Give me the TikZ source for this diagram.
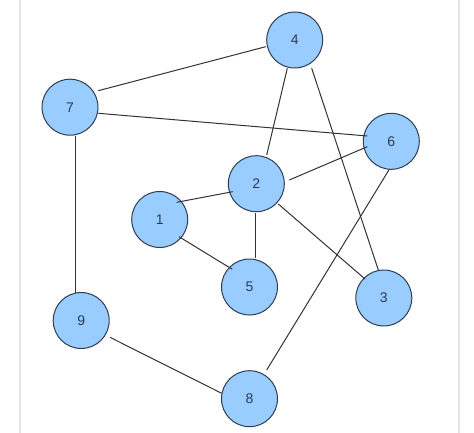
\documentclass[tikz,border=0pt]{standalone}
\usepackage{fontspec}
\setmainfont{Liberation Sans}
\begin{document}
\begin{tikzpicture}[x=1pt,y=-1pt,
  vert/.style={circle,draw=nodeedge,fill=nodefill,line width=1pt,minimum size=56pt,inner sep=0pt,text=nodetext,font=\fontsize{14pt}{16pt}\selectfont},
  edge/.style={draw=edgecol,line width=1pt}]
\definecolor{nodefill}{HTML}{99CCFF}
\definecolor{nodeedge}{HTML}{2E3E50}
\definecolor{nodetext}{HTML}{2A3B52}
\definecolor{edgecol}{HTML}{333333}
\definecolor{framecol}{HTML}{E3E3E3}
\useasboundingbox (0,0) rectangle (474,433);
\fill[white] (0,0) rectangle (474,433);
\coordinate (lt) at (20,0); \coordinate (lb) at (20,433);
\coordinate (rt) at (459,0); \coordinate (rb) at (459,433);
\draw[framecol,line width=2pt] (lt) -- (lb);
\draw[framecol,line width=2pt] (rt) -- (rb);
\node[vert] (n4) at (294.7,40) {4};
\node[vert] (n7) at (70,107.2) {7};
\node[vert] (n6) at (391.3,141.3) {6};
\node[vert] (n2) at (256.3,183.7) {2};
\node[vert] (n1) at (159.7,219.5) {1};
\node[vert] (n5) at (249.5,287) {5};
\node[vert] (n3) at (383.8,298) {3};
\node[vert] (n9) at (81.2,320.5) {9};
\node[vert] (n8) at (249.5,398.7) {8};
\path[edge] ([shift={(28.3,-16.5)}]n7.center) -- ([shift={(-29,6.7)}]n4.center);
\path[edge] ([shift={(28.3,6.1)}]n7.center) -- ([shift={(-24,-5.3)}]n6.center);
\path[edge] ([shift={(5,28.8)}]n7.center) -- ([shift={(-6.2,-27.8)}]n9.center);
\path[edge] ([shift={(-7.4,28.3)}]n4.center) -- ([shift={(10.4,-28.7)}]n2.center);
\path[edge] ([shift={(17,28.3)}]n4.center) -- ([shift={(-5.5,-28)}]n3.center);
\path[edge] ([shift={(33,-3.7)}]n2.center) -- ([shift={(-24,5.4)}]n6.center);
\path[edge] ([shift={(-23.6,8)}]n2.center) -- ([shift={(17,-17.2)}]n1.center);
\path[edge] ([shift={(-1.3,29.6)}]n2.center) -- ([shift={(5.5,-28.7)}]n5.center);
\path[edge] ([shift={(22,20.3)}]n2.center) -- ([shift={(-18.8,-19)}]n3.center);
\path[edge] ([shift={(19.3,17.2)}]n1.center) -- ([shift={(-17.2,-17.7)}]n5.center);
\path[edge] ([shift={(-2,28)}]n6.center) -- ([shift={(17.2,-28.7)}]n8.center);
\path[edge] ([shift={(28.8,16.8)}]n9.center) -- ([shift={(-27.8,-5.4)}]n8.center);
\end{tikzpicture}
\end{document}
